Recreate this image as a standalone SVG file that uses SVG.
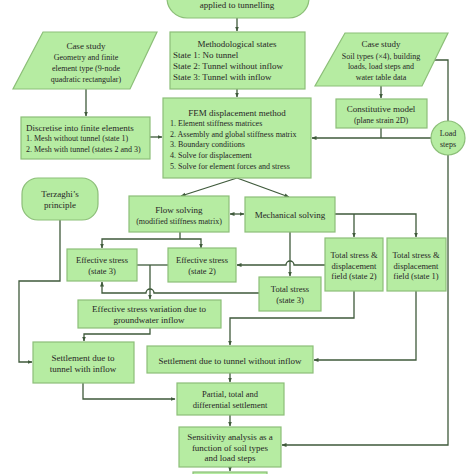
<svg xmlns="http://www.w3.org/2000/svg" width="474" height="474" viewBox="0 0 474 474">
<defs>
<style>
.box{fill:#b6eca2;stroke:#8cbf78;stroke-width:1.2}
.t{font-family:"Liberation Serif","Times New Roman",serif;fill:#262626;font-size:9px}
.s{font-size:8px}
.m{font-size:8.5px}
.c{text-anchor:middle}
.ln{fill:none;stroke:#3f5a3b;stroke-width:1.3}
.ar{marker-end:url(#ah)}
</style>
<marker id="ah" viewBox="0 0 10 10" refX="9" refY="5" markerWidth="5" markerHeight="5" markerUnits="userSpaceOnUse" orient="auto-start-reverse">
<path d="M0,1 L10,5 L0,9 z" fill="#3f5a3b"/>
</marker>
</defs>
<rect width="474" height="474" fill="#ffffff"/>

<g id="connectors">
<path class="ln ar" d="M237,18 V31"/>
<path class="ln ar" d="M237,89 V97"/>
<path class="ln ar" d="M86,89 V116"/>
<path class="ln ar" d="M150,137 H162"/>
<path class="ln ar" d="M381,86 V98"/>
<path class="ln" d="M381,128 V138"/>
<path class="ln ar" d="M431,138 H312"/>
<path class="ln" d="M435,60 H448 V121"/>
<path class="ln ar" d="M448,155 V445 H282"/>
<path class="ln ar" d="M237,178 L181,196"/>
<path class="ln ar" d="M237,178 L289,197"/>
<path class="ln ar" d="M230,214 H244" style="marker-start:url(#ah)"/>
<path class="ln" d="M180,232 V239"/>
<path class="ln ar" d="M180,239 H102 V248"/>
<path class="ln ar" d="M180,239 H201 V248"/>
<path class="ln ar" d="M335,214 H416 V237"/>
<path class="ln ar" d="M354,214 V237"/>
<path class="ln ar" d="M290,232 V276"/>
<path class="ln ar" d="M325,265 H294 A4,4 0 0 0 286,265 H237"/>
<path class="ln" d="M137,265 H168"/>
<path class="ln ar" d="M150,265 V299"/>
<path class="ln ar" d="M259,293 H154 A4,4 0 0 0 146,293 H102 V282"/>
<path class="ln ar" d="M150,328 V334 H84 V341"/>
<path class="ln ar" d="M60,220 V281 H19 V362 H32"/>
<path class="ln ar" d="M83,383 V399 H175"/>
<path class="ln ar" d="M354,291 V318 H230 V345"/>
<path class="ln ar" d="M416,291 V360 H314"/>
<path class="ln ar" d="M230,373 V382"/>
<path class="ln ar" d="M230,415 V426"/>
<path class="ln ar" d="M230,467 V471"/>
</g>

<g id="top">
<rect class="box" x="167" y="-22" width="142" height="40" rx="20"/>
<text class="t c" x="237" y="8">applied to tunnelling</text>
</g>

<g id="methodological">
<rect class="box" x="170" y="32" width="135" height="57"/>
<text class="t c" x="237" y="47">Methodological states</text>
<text class="t" x="173" y="58">State 1: No tunnel</text>
<text class="t" x="173" y="69">State 2: Tunnel without inflow</text>
<text class="t" x="173" y="80">State 3: Tunnel with inflow</text>
</g>

<g id="case-left">
<polygon class="box" points="43,32 157,32 130,89 13,89"/>
<text class="t c" x="86" y="49">Case study</text>
<text class="t s c" x="86" y="60">Geometry and finite</text>
<text class="t s c" x="86" y="71">element type (9-node</text>
<text class="t s c" x="86" y="82">quadratic rectangular)</text>
</g>

<g id="case-right">
<polygon class="box" points="345,33 448,33 422,86 315,86"/>
<text class="t c" x="381" y="47">Case study</text>
<text class="t s c" x="381" y="59">Soil types (×4), building</text>
<text class="t s c" x="381" y="69">loads, load steps and</text>
<text class="t s c" x="381" y="80">water table data</text>
</g>

<g id="constitutive">
<rect class="box" x="336" y="99" width="91" height="29"/>
<text class="t c" x="381" y="112">Constitutive model</text>
<text class="t s c" x="381" y="123">(plane strain 2D)</text>
</g>

<g id="load-steps">
<circle class="box" cx="448" cy="138" r="17"/>
<text class="t s c" x="448" y="136">Load</text>
<text class="t s c" x="448" y="147">steps</text>
</g>

<g id="discretise">
<rect class="box" x="21" y="117" width="129" height="42"/>
<text class="t" x="26" y="131">Discretise into finite elements</text>
<text class="t s" x="26" y="141">1. Mesh without tunnel (state 1)</text>
<text class="t s" x="26" y="152">2. Mesh with tunnel (states 2 and 3)</text>
</g>

<g id="fem">
<rect class="box" x="163" y="98" width="148" height="80"/>
<text class="t c" x="237" y="116">FEM displacement method</text>
<text class="t s" x="170" y="126">1. Element stiffness matrices</text>
<text class="t s" x="170" y="137">2. Assembly and global stiffness matrix</text>
<text class="t s" x="170" y="147">3. Boundary conditions</text>
<text class="t s" x="170" y="158">4. Solve for displacement</text>
<text class="t s" x="170" y="169">5. Solve for element forces and stress</text>
</g>

<g id="terzaghi">
<rect class="box" x="22" y="178" width="76" height="42" rx="16"/>
<text class="t c" x="60" y="197">Terzaghi’s</text>
<text class="t c" x="60" y="208">principle</text>
</g>

<g id="flow">
<rect class="box" x="129" y="196" width="100" height="36"/>
<text class="t c" x="179" y="213">Flow solving</text>
<text class="t s c" x="179" y="224">(modified stiffness matrix)</text>
</g>

<g id="mechanical">
<rect class="box" x="245" y="197" width="90" height="35"/>
<text class="t c" x="290" y="218">Mechanical solving</text>
</g>

<g id="eff3">
<rect class="box" x="67" y="249" width="70" height="32"/>
<text class="t m c" x="102" y="263">Effective stress</text>
<text class="t m c" x="102" y="274">(state 3)</text>
</g>

<g id="eff2">
<rect class="box" x="168" y="248" width="68" height="34"/>
<text class="t m c" x="202" y="263">Effective stress</text>
<text class="t m c" x="202" y="274">(state 2)</text>
</g>

<g id="tsd2">
<rect class="box" x="325" y="238" width="58" height="53"/>
<text class="t m c" x="354" y="258">Total stress &amp;</text>
<text class="t m c" x="354" y="269">displacement</text>
<text class="t m c" x="354" y="279">field (state 2)</text>
</g>

<g id="tsd1">
<rect class="box" x="387" y="238" width="59" height="53"/>
<text class="t m c" x="416" y="258">Total stress &amp;</text>
<text class="t m c" x="416" y="269">displacement</text>
<text class="t m c" x="416" y="279">field (state 1)</text>
</g>

<g id="ts3">
<rect class="box" x="259" y="277" width="62" height="34"/>
<text class="t m c" x="290" y="292">Total stress</text>
<text class="t m c" x="290" y="303">(state 3)</text>
</g>

<g id="variation">
<rect class="box" x="78" y="300" width="143" height="28"/>
<text class="t c" x="149" y="312">Effective stress variation due to</text>
<text class="t c" x="149" y="323">groundwater inflow</text>
</g>

<g id="settle-inflow">
<rect class="box" x="33" y="342" width="101" height="41"/>
<text class="t c" x="83" y="361">Settlement due to</text>
<text class="t c" x="83" y="372">tunnel with inflow</text>
</g>

<g id="settle-noinflow">
<rect class="box" x="147" y="346" width="166" height="27"/>
<text class="t c" x="230" y="364">Settlement due to tunnel without inflow</text>
</g>

<g id="partial">
<rect class="box" x="177" y="383" width="107" height="32"/>
<text class="t m c" x="230" y="397">Partial, total and</text>
<text class="t m c" x="230" y="408">differential settlement</text>
</g>

<g id="sensitivity">
<rect class="box" x="179" y="427" width="102" height="40"/>
<text class="t c" x="230" y="440">Sensitivity analysis as a</text>
<text class="t c" x="230" y="451">function of soil types</text>
<text class="t c" x="230" y="461">and load steps</text>
</g>

<g id="bottom">
<rect class="box" x="193" y="472" width="74" height="20"/>
</g>
</svg>
